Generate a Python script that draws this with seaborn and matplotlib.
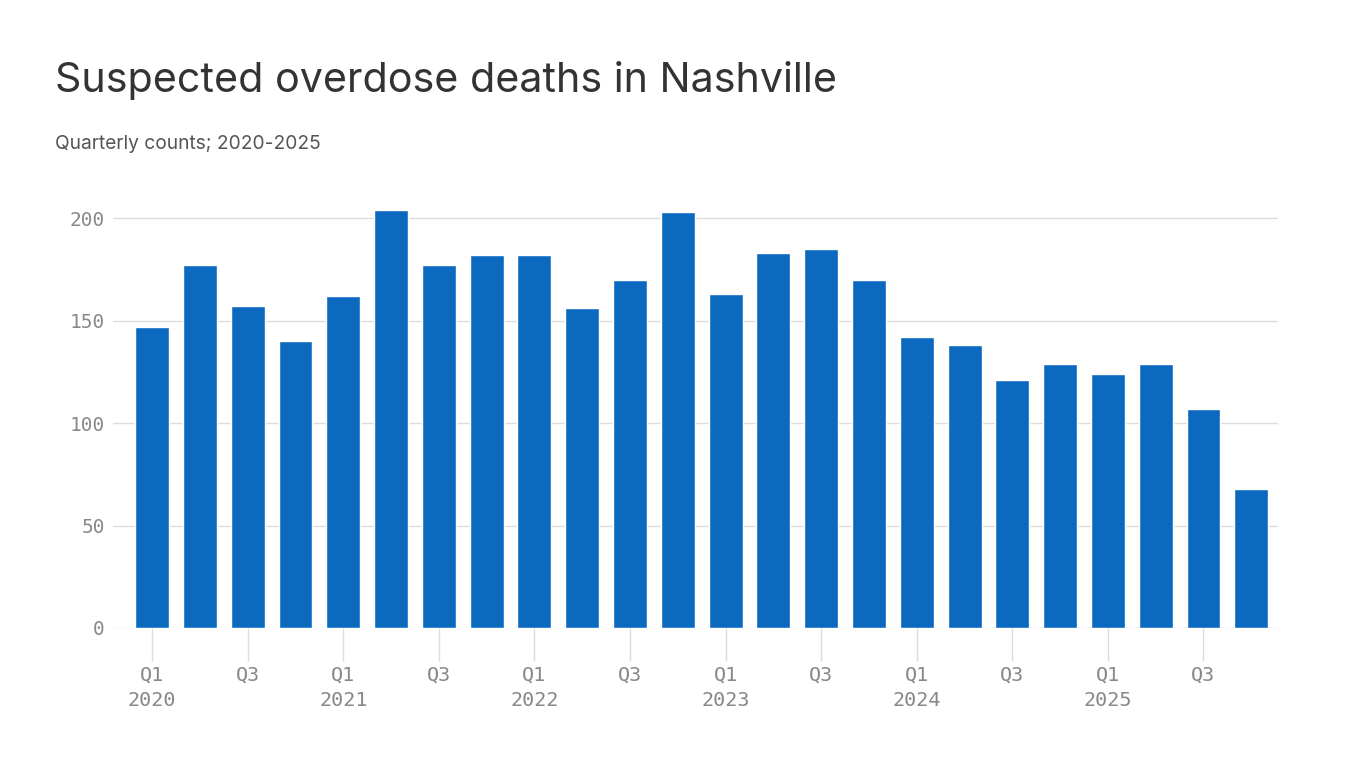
import matplotlib.pyplot as plt
import seaborn as sns
import pandas as pd

# Quarterly suspected overdose deaths, 2020 Q1 - 2025 Q4
years = [2020, 2021, 2022, 2023, 2024, 2025]
quarters = ["Q1", "Q2", "Q3", "Q4"]
deaths = [147, 177, 157, 140,
          162, 204, 177, 182,
          182, 156, 170, 203,
          163, 183, 185, 170,
          142, 138, 121, 129,
          124, 129, 107, 68]

periods = [f"{y} {q}" for y in years for q in quarters]
df = pd.DataFrame({"period": periods, "deaths": deaths})

sns.set_theme(style="white")
plt.rcParams['font.family'] = ['Inter', 'DejaVu Sans']

fig = plt.figure(figsize=(13.66, 7.68), dpi=100)
ax = fig.add_axes([0.0827, 0.1823, 0.8529, 0.5605])

sns.barplot(data=df, x="period", y="deaths", color="#0C69C0",
            saturation=1, width=0.71, ax=ax, zorder=3)

ax.set_xlim(-0.82, 23.56)
ax.set_ylim(0, 210)
ax.set_yticks([0, 50, 100, 150, 200])
ax.grid(axis="y", color="#dddddd", linewidth=1, zorder=0)
for s in ax.spines.values():
    s.set_visible(False)

# x ticks at Q1 and Q3 of each year
tick_pos, tick_lab = [], []
for i, p in enumerate(periods):
    y, q = p.split()
    if q == "Q1":
        tick_pos.append(i)
        tick_lab.append(f"Q1\n{y}")
    elif q == "Q3":
        tick_pos.append(i)
        tick_lab.append("Q3\n ")
ax.set_xticks(tick_pos)
ax.set_xticklabels(tick_lab, family="DejaVu Sans Mono", fontsize=14.5,
                   color="#888888", linespacing=1.45, va="top")
ax.tick_params(axis="x", bottom=True, length=24, width=1, color="#dddddd", pad=3)
ax.tick_params(axis="y", left=False, length=0, pad=6, labelsize=14, labelcolor="#888888")
for lab in ax.get_yticklabels():
    lab.set_family("DejaVu Sans Mono")
ax.set_xlabel("")
ax.set_ylabel("")

fig.text(0.040, 0.895, "Suspected overdose deaths in Nashville",
         fontsize=29.7, color="#333333", va="center", ha="left")
fig.text(0.040, 0.813, "Quarterly counts; 2020-2025",
         fontsize=13.8, color="#555555", va="center", ha="left")

fig.savefig("out.png", dpi=100)
